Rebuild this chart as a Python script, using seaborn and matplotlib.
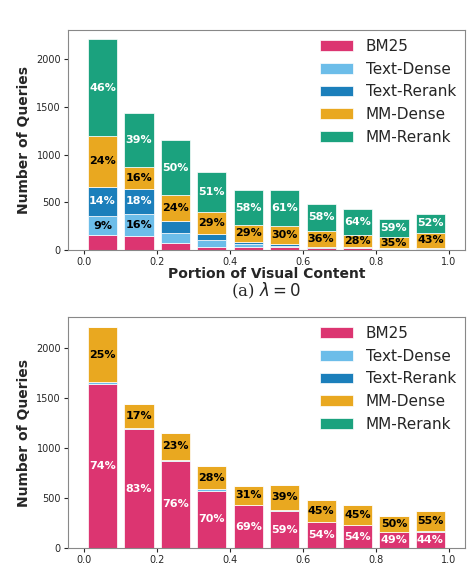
import numpy as np
import matplotlib
matplotlib.use("Agg")
import matplotlib.pyplot as plt
import seaborn as sns

bins = [0.05, 0.15, 0.25, 0.35, 0.45, 0.55, 0.65, 0.75, 0.85, 0.95]
totals = [2210, 1440, 1150, 820, 625, 630, 480, 430, 325, 375]
methods = ["BM25", "Text-Dense", "Text-Rerank", "MM-Dense", "MM-Rerank"]
colors = ["#dc3571", "#6cbde9", "#1b7fbb", "#e9a820", "#1ba27e"]

# percent share of each method per bin
pct_a = {
    "BM25":        [7, 10, 6, 4, 4, 4, 3, 4, 3, 2],
    "Text-Dense":  [9, 16, 9, 8, 5, 3, 2, 2, 2, 2],
    "Text-Rerank": [14, 18, 11, 8, 4, 2, 1, 2, 1, 1],
    "MM-Dense":    [24, 16, 24, 29, 29, 30, 36, 28, 35, 43],
    "MM-Rerank":   [46, 39, 50, 51, 58, 61, 58, 64, 59, 52],
}
pct_b = {
    "BM25":        [74, 83, 76, 70, 69, 59, 54, 54, 49, 44],
    "Text-Dense":  [1, 0.5, 1, 2, 0.5, 2, 1, 1, 1, 1],
    "Text-Rerank": [0, 0, 0, 0, 0, 0, 0, 0, 0, 0],
    "MM-Dense":    [25, 17, 23, 28, 31, 39, 45, 45, 50, 55],
    "MM-Rerank":   [0, 0, 0, 0, 0, 0, 0, 0, 0, 0],
}
# which segments carry a percent label
shown_a = {
    "BM25":        [0] * 10,
    "Text-Dense":  [1, 1, 0, 0, 0, 0, 0, 0, 0, 0],
    "Text-Rerank": [1, 1, 0, 0, 0, 0, 0, 0, 0, 0],
    "MM-Dense":    [1] * 10,
    "MM-Rerank":   [1] * 10,
}
shown_b = {
    "BM25":        [1] * 10,
    "Text-Dense":  [0] * 10,
    "Text-Rerank": [0] * 10,
    "MM-Dense":    [1] * 10,
    "MM-Rerank":   [0] * 10,
}
text_colors = ["white", "black", "white", "black", "white"]

sns.set_style("white")
plt.rcParams["font.family"] = ["DejaVu Sans"]

fig = plt.figure(figsize=(4.75, 5.64), dpi=100)
ax_a = fig.add_axes([0.143, 0.557, 0.836, 0.39])
ax_b = fig.add_axes([0.143, 0.028, 0.836, 0.41])


def draw(ax, pct, shown):
    bottom = np.zeros(len(bins))
    tot = np.array(totals, dtype=float)
    norm = sum(np.array(pct[m], dtype=float) for m in methods)
    for m, c, tc in zip(methods, colors, text_colors):
        h = tot * np.array(pct[m], dtype=float) / norm
        ax.bar(bins, h, width=0.08, bottom=bottom, color=c, label=m,
               edgecolor="white", linewidth=0.5)
        for i, x in enumerate(bins):
            if shown[m][i]:
                ax.text(x, bottom[i] + h[i] / 2, f"{pct[m][i]:.0f}%", ha="center",
                        va="center", color=tc, fontsize=8, fontweight="bold")
        bottom += h
    ax.set_xlim(-0.045, 1.045)
    ax.set_ylim(0, 2310)
    ax.set_yticks([0, 500, 1000, 1500, 2000])
    ax.set_xticks([0.0, 0.2, 0.4, 0.6, 0.8, 1.0])
    ax.tick_params(labelsize=7, length=3, pad=2, left=True, bottom=True)
    ax.set_xlabel("Portion of Visual Content", fontsize=10, fontweight="bold", labelpad=0)
    ax.set_ylabel("Number of Queries", fontsize=10, fontweight="bold")
    for s in ax.spines.values():
        s.set_color("#888888")
    ax.legend(fontsize=11, frameon=False, loc="upper right", handlelength=2.2,
              borderaxespad=0.2)


draw(ax_a, pct_a, shown_a)
draw(ax_b, pct_b, shown_b)
fig.text(0.56, 0.484, r"(a) $\lambda = 0$", ha="center", va="center",
         fontsize=12, family="DejaVu Serif")

fig.savefig("out.png", dpi=100)
